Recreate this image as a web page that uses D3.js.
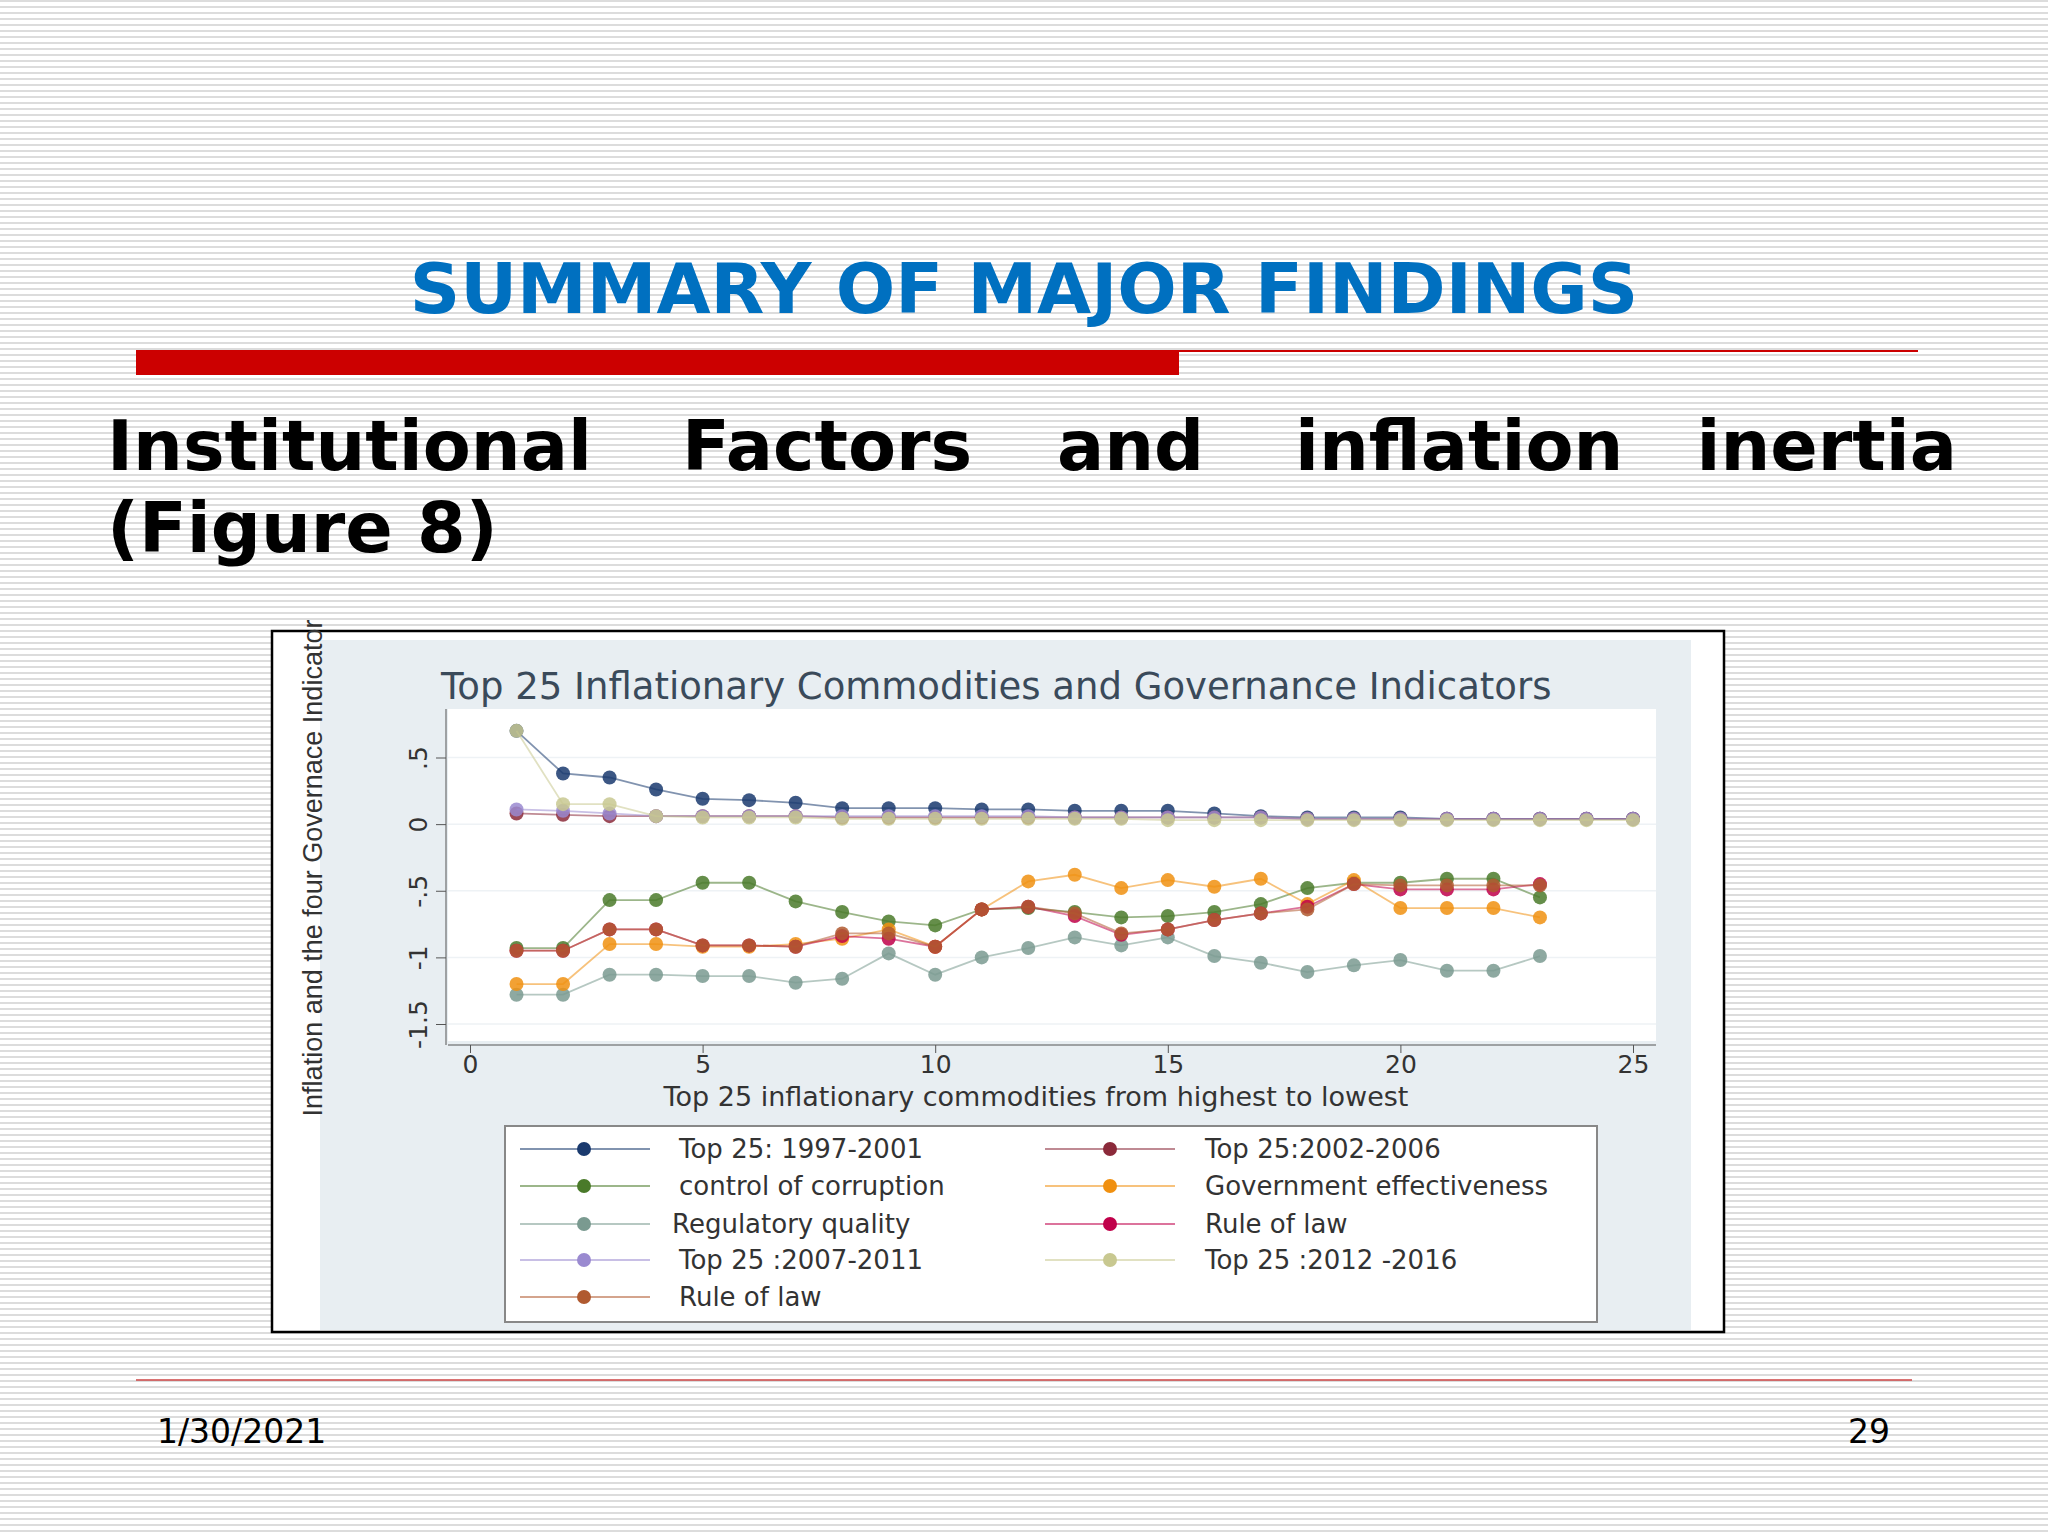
<!DOCTYPE html>
<html><head><meta charset="utf-8">
<script src="https://cdn.jsdelivr.net/npm/d3@7"></script>
<style>body{margin:0}svg{display:block}</style></head>
<body><svg id="s" width="2048" height="1536"></svg>
<script>
const seriesNames=["Top 25: 1997-2001","Top 25:2002-2006","control of corruption","Government effectiveness","Regulatory quality","Rule of law","Top 25 :2007-2011","Top 25 :2012 -2016","Rule of law"];
const seriesColors=["#1a3a6e","#8b2a3a","#4a7a2a","#f09010","#7a9a90","#c0004a","#9a8ad0","#c8c890","#b05a30"];
const xTicks=[0,5,10,15,20,25];
const yTicks=[-1.5,-1,-0.5,0,0.5];
const yTickLabels=["-1.5","-1","-.5","0",".5"];
const s1997=[0.7,0.38,0.35,0.26,0.19,0.18,0.16,0.12,0.12,0.12,0.11,0.11,0.10,0.10,0.10,0.08,0.06,0.05,0.05,0.05,0.04,0.04,0.04,0.04,0.04];
const s2002=[0.08,0.07,0.06,0.06,0.06,0.06,0.06,0.05,0.05,0.05,0.05,0.05,0.05,0.05,0.05,0.05,0.05,0.04,0.04,0.04,0.04,0.04,0.04,0.04,0.04];
const s2007=[0.11,0.10,0.08,0.06,0.06,0.06,0.06,0.06,0.06,0.06,0.06,0.06,0.05,0.05,0.05,0.05,0.05,0.04,0.04,0.04,0.04,0.04,0.04,0.04,0.04];
const s2012=[0.7,0.15,0.15,0.06,0.05,0.05,0.05,0.04,0.04,0.04,0.04,0.04,0.04,0.04,0.03,0.03,0.03,0.03,0.03,0.03,0.03,0.03,0.03,0.03,0.03];
const corruption=[-0.93,-0.93,-0.57,-0.57,-0.44,-0.44,-0.58,-0.66,-0.73,-0.76,-0.64,-0.63,-0.66,-0.70,-0.69,-0.66,-0.60,-0.48,-0.44,-0.44,-0.41,-0.41,-0.55];
const govEff=[-1.20,-1.20,-0.90,-0.90,-0.92,-0.92,-0.90,-0.86,-0.79,-0.92,-0.64,-0.43,-0.38,-0.48,-0.42,-0.47,-0.41,-0.60,-0.42,-0.63,-0.63,-0.63,-0.70];
const regQual=[-1.28,-1.28,-1.13,-1.13,-1.14,-1.14,-1.19,-1.16,-0.97,-1.13,-1.00,-0.93,-0.85,-0.91,-0.85,-0.99,-1.04,-1.11,-1.06,-1.02,-1.10,-1.10,-0.99];
const ruleLaw1=[-0.95,-0.95,-0.79,-0.79,-0.91,-0.91,-0.92,-0.84,-0.86,-0.92,-0.64,-0.62,-0.69,-0.83,-0.79,-0.72,-0.67,-0.62,-0.45,-0.49,-0.49,-0.49,-0.45];
const ruleLaw2=[-0.95,-0.95,-0.79,-0.79,-0.91,-0.91,-0.92,-0.82,-0.82,-0.92,-0.64,-0.62,-0.67,-0.82,-0.79,-0.72,-0.67,-0.64,-0.45,-0.46,-0.46,-0.46,-0.46];
const seriesData=[s1997,s2002,corruption,govEff,regQual,ruleLaw1,s2007,s2012,ruleLaw2];
const drawOrder=[4,2,3,5,8,0,1,6,7];

const svg=d3.select("#s");
const defs=svg.append("defs");
const pat=defs.append("pattern").attr("id","stripe").attr("width",8).attr("height",6).attr("patternUnits","userSpaceOnUse");
pat.append("rect").attr("width",8).attr("height",6).attr("fill","#fff");
pat.append("rect").attr("y",0).attr("width",8).attr("height",2).attr("fill","#dcdcdc");
svg.append("rect").attr("width",2048).attr("height",1536).attr("fill","url(#stripe)");

svg.append("text").attr("x",1024).attr("y",313).attr("text-anchor","middle").attr("font-family","DejaVu Sans").attr("font-weight","bold").attr("font-size",70).attr("fill","#0070C0").text("SUMMARY OF MAJOR FINDINGS");
svg.append("rect").attr("x",136).attr("y",350).attr("width",1043).attr("height",25).attr("fill","#cc0000");
svg.append("line").attr("x1",1179).attr("x2",1918).attr("y1",351).attr("y2",351).attr("stroke","#cc0000").attr("stroke-width",2);
const words=[["Institutional",107,"start"],["Factors",682,"start"],["and",1057,"start"],["inflation",1295,"start"],["inertia",1957,"end"]];
words.forEach(w=>svg.append("text").attr("x",w[1]).attr("y",470).attr("text-anchor",w[2]).attr("font-family","DejaVu Sans").attr("font-weight","bold").attr("font-size",70).attr("fill","#000").text(w[0]));
svg.append("text").attr("x",107).attr("y",552).attr("font-family","DejaVu Sans").attr("font-weight","bold").attr("font-size",70).attr("fill","#000").text("(Figure 8)");

svg.append("rect").attr("x",272).attr("y",631).attr("width",1452).attr("height",701).attr("fill","#fff").attr("stroke","#000").attr("stroke-width",2.5);
svg.append("rect").attr("x",320).attr("y",640).attr("width",1371).attr("height",690).attr("fill","#e8eef2");
const L=448,R=1656,T=709,B=1041;
svg.append("rect").attr("x",L).attr("y",T).attr("width",R-L).attr("height",B-T).attr("fill","#fff");
const x=d3.scaleLinear().domain([0,25]).range([470,1633]);
const y=d3.scaleLinear().domain([-1.5,0.5]).range([1024,757.5]);
yTicks.forEach(t=>svg.append("line").attr("x1",L).attr("x2",R).attr("y1",y(t)).attr("y2",y(t)).attr("stroke","#eef2f5").attr("stroke-width",1.5));
const xa=svg.append("g").attr("transform",`translate(0,${B+4})`).call(d3.axisBottom(x).tickValues(xTicks).tickSize(8).tickPadding(2));
xa.select(".domain").attr("d",`M${L},0H${R}`).attr("stroke","#555");
xa.selectAll("line").attr("stroke","#555");
xa.selectAll("text").attr("font-family","DejaVu Sans").attr("font-size",25).attr("fill","#333");
const ya=svg.append("g").attr("transform",`translate(${L-2},0)`).call(d3.axisLeft(y).tickValues(yTicks).tickFormat((d,i)=>yTickLabels[i]).tickSize(10).tickPadding(6));
ya.select(".domain").attr("d",`M0,${T}V${B+4}`).attr("stroke","#555");
ya.selectAll("line").attr("stroke","#555");
ya.selectAll("text").attr("font-family","DejaVu Sans").attr("font-size",25).attr("fill","#333").attr("text-anchor","middle").attr("x",null).attr("transform","translate(-28,0) rotate(-90)").attr("dy","0.35em");

const line=d3.line().x((d,i)=>x(i+1)).y(d=>y(d));
drawOrder.forEach(k=>{
  svg.append("path").attr("d",line(seriesData[k])).attr("fill","none").attr("stroke",seriesColors[k]).attr("stroke-opacity",0.55).attr("stroke-width",1.8);
  svg.append("g").selectAll("circle").data(seriesData[k]).join("circle").attr("cx",(d,i)=>x(i+1)).attr("cy",d=>y(d)).attr("r",7).attr("fill",seriesColors[k]).attr("fill-opacity",0.85);
});

svg.append("text").attr("x",441).attr("y",699).attr("font-family","DejaVu Sans").attr("font-size",37).attr("fill","#3a4a5a").text("Top 25 Inflationary Commodities and Governance Indicators");
svg.append("text").attr("transform","translate(322,868) rotate(-90)").attr("text-anchor","middle").attr("font-family","Liberation Sans Narrow, Liberation Sans").attr("font-size",27).attr("fill","#333").text("Inflation and the four  Governace Indicator");
svg.append("text").attr("x",1036).attr("y",1106).attr("text-anchor","middle").attr("font-family","DejaVu Sans").attr("font-size",27).attr("fill","#333").text("Top 25 inflationary commodities from highest to lowest");

svg.append("rect").attr("x",505).attr("y",1126).attr("width",1092).attr("height",196).attr("fill","#fff").attr("stroke","#888").attr("stroke-width",2);
const rows=[1149,1186,1224,1260,1297];
const legendPos=[[0,0],[1,0],[0,1],[1,1],[0,2],[1,2],[0,3],[1,3],[0,4]];
seriesNames.forEach((n,i)=>{
  const [c,r]=legendPos[i];const yy=rows[r];
  const lx=c?1045:520, mx=c?1110:584, tx=c?1205:(i==4?672:679);
  svg.append("line").attr("x1",lx).attr("x2",lx+130).attr("y1",yy).attr("y2",yy).attr("stroke",seriesColors[i]).attr("stroke-opacity",0.55).attr("stroke-width",1.8);
  svg.append("circle").attr("cx",mx).attr("cy",yy).attr("r",7).attr("fill",seriesColors[i]);
  svg.append("text").attr("x",tx).attr("y",yy+9).attr("font-family","DejaVu Sans").attr("font-size",26).attr("fill","#333").text(n);
});

svg.append("line").attr("x1",136).attr("x2",1912).attr("y1",1380).attr("y2",1380).attr("stroke","#cc4444").attr("stroke-width",1.5);
svg.append("text").attr("x",157).attr("y",1443).attr("font-family","DejaVu Sans").attr("font-size",33).attr("fill","#000").text("1/30/2021");
svg.append("text").attr("x",1890).attr("y",1443).attr("text-anchor","end").attr("font-family","DejaVu Sans").attr("font-size",33).attr("fill","#000").text("29");
</script></body></html>
